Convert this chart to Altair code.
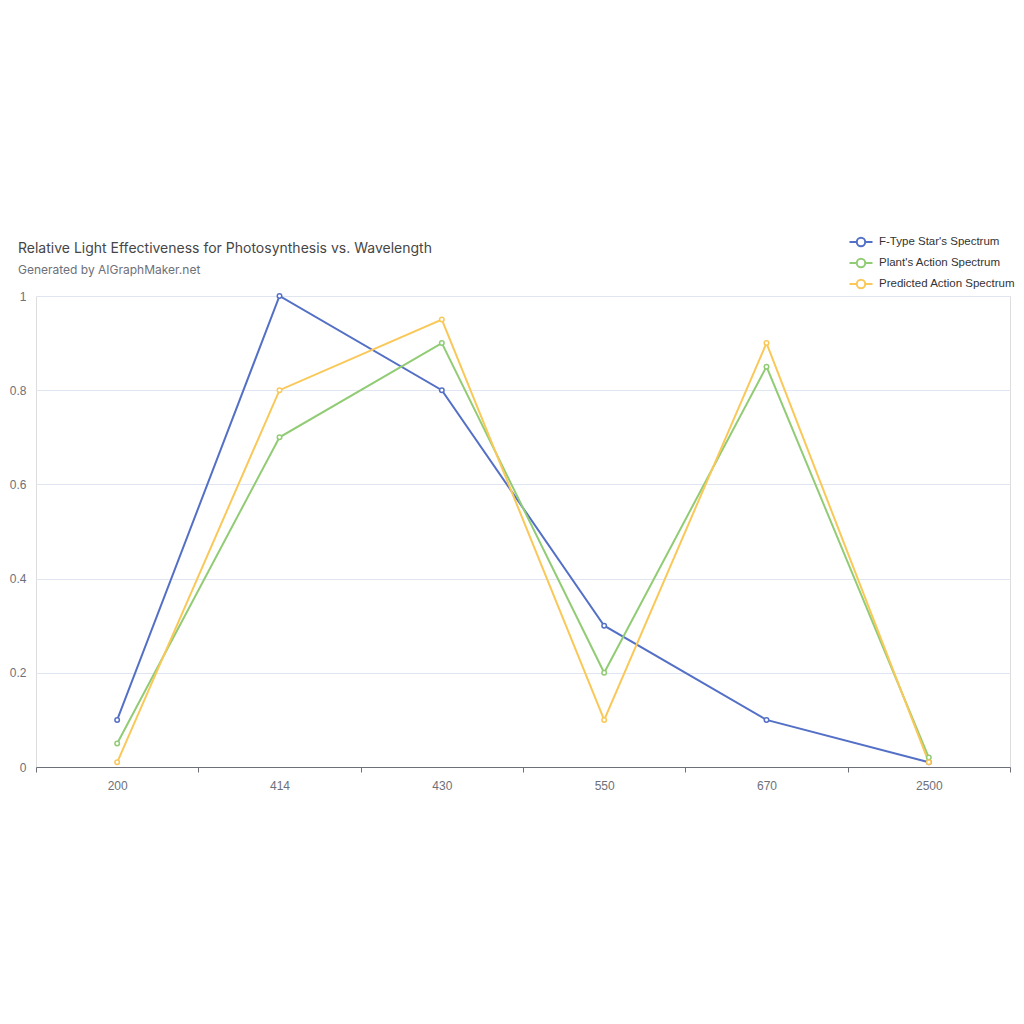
import altair as alt
import pandas as pd

wavelengths = ["200", "414", "430", "550", "670", "2500"]
series_names = ["F-Type Star's Spectrum", "Plant's Action Spectrum", "Predicted Action Spectrum"]
f_type = [0.1, 1.0, 0.8, 0.3, 0.1, 0.01]
plant = [0.05, 0.7, 0.9, 0.2, 0.85, 0.02]
predicted = [0.01, 0.8, 0.95, 0.1, 0.9, 0.01]
colors = ["#5470c6", "#91cc75", "#fac858"]

rows = []
for name, vals in zip(series_names, [f_type, plant, predicted]):
    for i, (w, v) in enumerate(zip(wavelengths, vals)):
        rows.append({"wavelength": w, "value": v, "series": name, "order": i})
df = pd.DataFrame(rows)

legend_symbol = ("M-1.15,0 L-0.42,0 M0.42,0 L1.15,0 "
                 "M-0.42,0 A0.42,0.42 0 1,1 0.42,0 A0.42,0.42 0 1,1 -0.42,0 Z")

x_enc = alt.X("wavelength:N", sort=wavelengths, bandPosition=0.5,
              scale=alt.Scale(type="band", paddingInner=0, paddingOuter=0),
              axis=alt.Axis(title=None, labelAngle=0, tickBand="extent", grid=False,
                            domainColor="#6E7079", tickColor="#6E7079", labelColor="#6E7079",
                            labelFontSize=12, labelPadding=8, tickSize=5, labelFont="Liberation Sans"))
y_enc = alt.Y("value:Q", scale=alt.Scale(domain=[0, 1], nice=False),
              axis=alt.Axis(title=None, values=[0, 0.2, 0.4, 0.6, 0.8, 1.0], domain=False, ticks=False,
                            format="~g",
                            gridColor="#E0E6F1", labelColor="#6E7079", labelFontSize=12,
                            labelPadding=10, labelFont="Liberation Sans"))
color_enc = alt.Color("series:N", scale=alt.Scale(domain=series_names, range=colors),
                      legend=alt.Legend(title=None, orient="none", legendX=814, legendY=-65,
                                        symbolType=legend_symbol, symbolSize=400, symbolStrokeWidth=2,
                                        symbolFillColor="white", labelFontSize=11.5, labelColor="#333333",
                                        labelFont="Liberation Sans", rowPadding=1, labelOffset=7,
                                        symbolOpacity=1))

base = alt.Chart(df).encode(x=x_enc, y=y_enc, color=color_enc, order="order:Q")
lines = base.mark_line(strokeWidth=2)
points = base.mark_point(filled=False, fill="white", fillOpacity=1, size=20, strokeWidth=1.5, opacity=1)

chart = (lines + points).properties(
    width=974, height=471,
    autosize=alt.AutoSizeParams(type="none"),
    padding={"left": 28, "top": 288, "right": 6, "bottom": 220},
    title=alt.TitleParams(
        text="Relative Light Effectiveness for Photosynthesis vs. Wavelength",
        subtitle="Generated by AIGraphMaker.net",
        anchor="start", frame="group", dx=-18, dy=63, offset=18,
        font="Inter", fontSize=14, fontWeight="normal", color="#464646",
        subtitleFont="Inter", subtitleFontSize=12, subtitleColor="#6E7079", subtitlePadding=9,
    ),
).configure_view(stroke="transparent", strokeWidth=0).configure(background="white")

chart.save("out.html", embed_options={"renderer": "svg", "actions": False})
